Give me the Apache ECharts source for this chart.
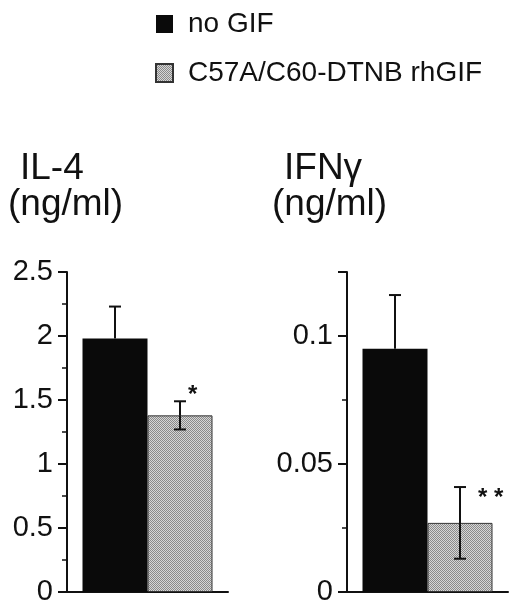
<!DOCTYPE html>
<html>
<head>
<meta charset="utf-8">
<script src="https://cdn.jsdelivr.net/npm/echarts@6/dist/echarts.min.js"></script>
<style>
  html, body { margin: 0; padding: 0; background: #fff; }
  #chart { width: 520px; height: 612px; }
</style>
</head>
<body>
<div id="chart"></div>
<script>
// data
const groups = ['no GIF', 'C57A/C60-DTNB rhGIF'];
const panelNames = ['IL-4', 'IFNγ'];
const unitLabel = '(ng/ml)';
const noGifMean = [1.98, 0.095];
const noGifErr = [0.25, 0.021];
const rhGifMean = [1.38, 0.027];
const rhGifErr = [0.11, 0.014];
const significance = ['*', '* *'];
const yMax = [2.5, 0.125];
const yStep = [0.5, 0.05];

const FONT = '"Liberation Sans", Arial, Helvetica, sans-serif';
const INK = '#111';
const BAR_W = 65;

// stippled grey fill like the printed halftone
function makeStipple() {
    const c = document.createElement('canvas');
    c.width = 2; c.height = 2;
    const ctx = c.getContext('2d');
    ctx.fillStyle = '#d6d6d6';
    ctx.fillRect(0, 0, 2, 2);
    ctx.fillStyle = '#8a8a8a';
    ctx.fillRect(0, 0, 1, 1);
    ctx.fillRect(1, 1, 1, 1);
    return c;
}
const stipple = { image: makeStipple(), repeat: 'repeat' };

const chart = echarts.init(document.getElementById('chart'), null, { renderer: 'canvas' });

const gridLeft = [67, 347];
const titleLeft = [3, 267];
const titleIndent = [12, 12];
const sigDx = [8, 18];
const sigDy = [-6, 11];

const grids = [], xAxes = [], yAxes = [], series = [], titles = [];

panelNames.forEach((name, i) => {
    grids.push({ left: gridLeft[i], top: 272, width: 161, height: 320 });

    titles.push({
        text: '{a|' + name + '}\n{b|' + unitLabel + '}',
        left: titleLeft[i],
        top: 146,
        textStyle: {
            fontWeight: 'normal',
            rich: {
                a: { fontFamily: FONT, fontSize: 37, fontWeight: 'normal', color: INK, lineHeight: 36, padding: [0, 0, 0, titleIndent[i]] },
                b: { fontFamily: FONT, fontSize: 37, fontWeight: 'normal', color: INK, lineHeight: 36 }
            }
        }
    });

    xAxes.push({
        gridIndex: i,
        type: 'category',
        data: [''],
        axisLine: { lineStyle: { color: INK, width: 2 } },
        axisTick: { alignWithLabel: true, length: 10, lineStyle: { color: INK, width: 2 } },
        axisLabel: { show: false },
        splitLine: { show: false }
    });

    yAxes.push({
        gridIndex: i,
        type: 'value',
        min: 0,
        max: yMax[i],
        interval: yStep[i],
        axisLine: { show: true, lineStyle: { color: INK, width: 2 } },
        axisTick: { show: true, length: 9, lineStyle: { color: INK, width: 2 } },
        minorTick: { show: true, splitNumber: 2, length: 5, lineStyle: { color: INK, width: 1.5 } },
        axisLabel: {
            margin: 14,
            color: INK,
            fontFamily: FONT,
            fontSize: 29,
            showMaxLabel: i === 0
        },
        splitLine: { show: false },
        minorSplitLine: { show: false }
    });

    series.push({
        name: groups[0],
        type: 'bar',
        xAxisIndex: i,
        yAxisIndex: i,
        barWidth: BAR_W,
        barGap: '0%',
        itemStyle: { color: '#0a0a0a' },
        data: [noGifMean[i]],
        z: 2
    });
    series.push({
        name: groups[1],
        type: 'bar',
        xAxisIndex: i,
        yAxisIndex: i,
        barWidth: BAR_W,
        barGap: '0%',
        itemStyle: { color: stipple, borderColor: '#333', borderWidth: 1 },
        data: [rhGifMean[i]],
        z: 2
    });

    // error bars (+ significance marks on the treated bar)
    series.push({
        type: 'custom',
        xAxisIndex: i,
        yAxisIndex: i,
        z: 5,
        silent: true,
        data: [
            [0, noGifMean[i], noGifErr[i], 0],
            [0, rhGifMean[i], rhGifErr[i], 1]
        ],
        renderItem: function (params, api) {
            const grp = api.value(3);
            const mean = api.value(1);
            const err = api.value(2);
            const top = api.coord([api.value(0), mean + err]);
            const mid = api.coord([api.value(0), mean]);
            const bot = api.coord([api.value(0), mean - err]);
            const x = top[0] + (grp === 0 ? -1 : 1) * BAR_W / 2;
            const cap = 6;
            const style = { stroke: INK, lineWidth: 2 };
            const children = [
                { type: 'line', shape: { x1: x, y1: top[1], x2: x, y2: mid[1] }, style: style },
                { type: 'line', shape: { x1: x - cap, y1: top[1], x2: x + cap, y2: top[1] }, style: style }
            ];
            if (grp === 1) {
                // lower whisker only shows on the light bar
                children.push(
                    { type: 'line', shape: { x1: x, y1: mid[1], x2: x, y2: bot[1] }, style: style },
                    { type: 'line', shape: { x1: x - cap, y1: bot[1], x2: x + cap, y2: bot[1] }, style: style },
                    {
                        type: 'text',
                        style: {
                            text: significance[i],
                            x: x + sigDx[i],
                            y: top[1] + sigDy[i],
                            align: 'left',
                            verticalAlign: 'middle',
                            fill: INK,
                            font: 'bold 24px ' + FONT
                        }
                    }
                );
            }
            return { type: 'group', children: children };
        }
    });
});

const option = {
    backgroundColor: '#fff',
    animation: false,
    title: titles,
    legend: {
        orient: 'vertical',
        left: 150,
        top: 5,
        itemWidth: 17,
        itemHeight: 18,
        itemGap: 21,
        icon: 'rect',
        data: groups,
        textStyle: { fontFamily: FONT, fontSize: 28, color: INK, padding: [0, 0, 0, 10] }
    },
    grid: grids,
    xAxis: xAxes,
    yAxis: yAxes,
    series: series
};

chart.setOption(option);
</script>
</body>
</html>
